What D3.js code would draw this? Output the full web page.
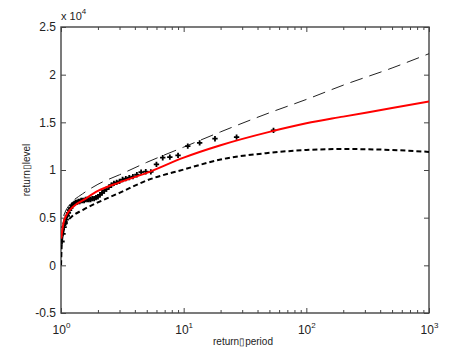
<!DOCTYPE html>
<html><head><meta charset="utf-8">
<script src="https://cdn.jsdelivr.net/npm/d3@7"></script>
<style>body{margin:0;background:#fff}svg{display:block}text{font-family:"Liberation Sans",Arial,sans-serif}</style>
</head><body>
<svg id="c" width="474" height="352"></svg>
<script>
// values in units of 10^4
const fitT     = [1.005,1.02,1.05,1.1,1.2,1.3,1.5,2,3,5,10,20,50,100,200,500,1000];
const fitLevel = [0.28,0.35,0.45,0.52,0.59,0.63,0.68,0.78,0.87,0.97,1.13,1.26,1.40,1.49,1.56,1.65,1.72];
const upperT     = [1.05,1.1,1.2,1.5,2,3,5,10,20,50,100,200,500,1000];
const upperLevel = [0.52,0.58,0.65,0.75,0.85,0.95,1.08,1.24,1.40,1.60,1.74,1.89,2.07,2.22];
const lowerT     = [1.001,1.01,1.02,1.05,1.1,1.2,1.5,2,3,5,10,20,50,100,200,500,1000];
const lowerLevel = [0.0,0.17,0.26,0.36,0.44,0.50,0.58,0.66,0.76,0.89,1.005,1.11,1.18,1.21,1.22,1.21,1.19];
const obsT = [54,27,18,13.5,10.8,9,7.714,6.75,6,5.4,4.909,4.5,4.154,3.857,3.6,3.375,3.176,3,2.842,2.7,2.571,2.455,2.348,2.25,2.16,2.077,2,1.929,1.862,1.8,1.742,1.688,1.636,1.588,1.543,1.5,1.459,1.421,1.385,1.35,1.317,1.286,1.256,1.227,1.2,1.174,1.149,1.125,1.102,1.08,1.059,1.038,1.019];
const obsLevel = [1.415,1.345,1.328,1.284,1.25,1.153,1.135,1.129,1.059,0.98,0.982,0.978,0.95,0.93,0.92,0.91,0.90,0.88,0.87,0.86,0.84,0.82,0.80,0.78,0.76,0.74,0.72,0.71,0.70,0.70,0.69,0.69,0.69,0.69,0.68,0.68,0.68,0.67,0.67,0.66,0.66,0.65,0.64,0.63,0.60,0.58,0.55,0.52,0.48,0.44,0.40,0.33,0.25];
const xMajor = [1,10,100,1000];
const xExp = ["0","1","2","3"];
const yTicks = [-0.5,0,0.5,1,1.5,2,2.5];
const yTickLabels = ["-0.5","0","0.5","1","1.5","2","2.5"];
const xLabel = "return\u25AFperiod", yLabel = "return\u25AFlevel";

const svg = d3.select("#c");
const L=61,R=429,T=27,B=313;
const x = d3.scaleLog().domain([1,1000]).range([L,R]);
const y = d3.scaleLinear().domain([-0.5,2.5]).range([B,T]);
const xMinor = [];
[1,10,100].forEach(d=>{for(let k=2;k<=9;k++) xMinor.push(d*k);});

const axCol="#444", txtCol="#222";
function style(g){g.select(".domain").remove();g.selectAll("line").attr("stroke",axCol);g.selectAll("text").attr("fill",txtCol).style("font-size","11px");}

svg.append("g").attr("transform",`translate(0,${B})`).call(d3.axisBottom(x).tickValues(xMinor).tickSize(-3).tickFormat("")).call(style);
svg.append("g").attr("transform",`translate(0,${T})`).call(d3.axisTop(x).tickValues(xMinor).tickSize(-3).tickFormat("")).call(style);
svg.append("g").attr("transform",`translate(0,${T})`).call(d3.axisTop(x).tickValues(xMajor).tickSize(-5).tickFormat("")).call(style);
const xb = svg.append("g").attr("transform",`translate(0,${B})`).call(d3.axisBottom(x).tickValues(xMajor).tickSize(-5).tickPadding(13).tickFormat(()=>"")).call(style);
xb.selectAll("text").each(function(d,i){
  const t=d3.select(this);
  t.append("tspan").text("10").style("font-size","12px");
  t.append("tspan").text(xExp[i]).attr("dy","-6").style("font-size","8px");
});
svg.append("g").attr("transform",`translate(${L},0)`).call(d3.axisLeft(y).tickValues(yTicks).tickSize(-5).tickPadding(5).tickFormat((d,i)=>yTickLabels[i])).call(style)
  .selectAll("text").style("font-size","12px");
svg.append("g").attr("transform",`translate(${R},0)`).call(d3.axisRight(y).tickValues(yTicks).tickSize(-5).tickFormat("")).call(style);

svg.append("rect").attr("x",L).attr("y",T).attr("width",R-L).attr("height",B-T).attr("fill","none").attr("stroke",axCol).attr("stroke-width",1.4);

const ex = svg.append("text").attr("x",L).attr("y",20).attr("fill",txtCol).style("font-size","11px");
ex.append("tspan").text("x 10");
ex.append("tspan").text("4").attr("dy","-6").style("font-size","8px");

svg.append("text").attr("x",243).attr("y",345).attr("text-anchor","middle").attr("fill",txtCol).style("font-size","10px").text(xLabel);
svg.append("text").attr("transform","translate(30,170) rotate(-90)").attr("text-anchor","middle").attr("fill",txtCol).style("font-size","10px").text(yLabel);

svg.append("clipPath").attr("id","cp").append("rect").attr("x",L).attr("y",T).attr("width",R-L).attr("height",B-T);
const plot = svg.append("g").attr("clip-path","url(#cp)");
const line = d3.line().x(d=>x(d[0])).y(d=>y(d[1])).curve(d3.curveMonotoneX);

plot.append("path").attr("d",line(upperT.map((t,i)=>[t,upperLevel[i]]))).attr("fill","none").attr("stroke","#222").attr("stroke-width",1).attr("stroke-dasharray","13,7");
plot.append("path").attr("d",line(lowerT.map((t,i)=>[t,lowerLevel[i]]))).attr("fill","none").attr("stroke","#000").attr("stroke-width",2).attr("stroke-dasharray","5,3");
plot.selectAll(".pt").data(obsT.map((t,i)=>[t,obsLevel[i]])).enter().append("path").attr("class","pt")
  .attr("transform",d=>`translate(${x(d[0])},${y(d[1])})`).attr("d",d3.symbol(d3.symbolCross).size(16)).attr("fill","#000");
plot.append("path").attr("d",line(fitT.map((t,i)=>[t,fitLevel[i]]))).attr("fill","none").attr("stroke","#f00").attr("stroke-width",2);
</script>
</body></html>
